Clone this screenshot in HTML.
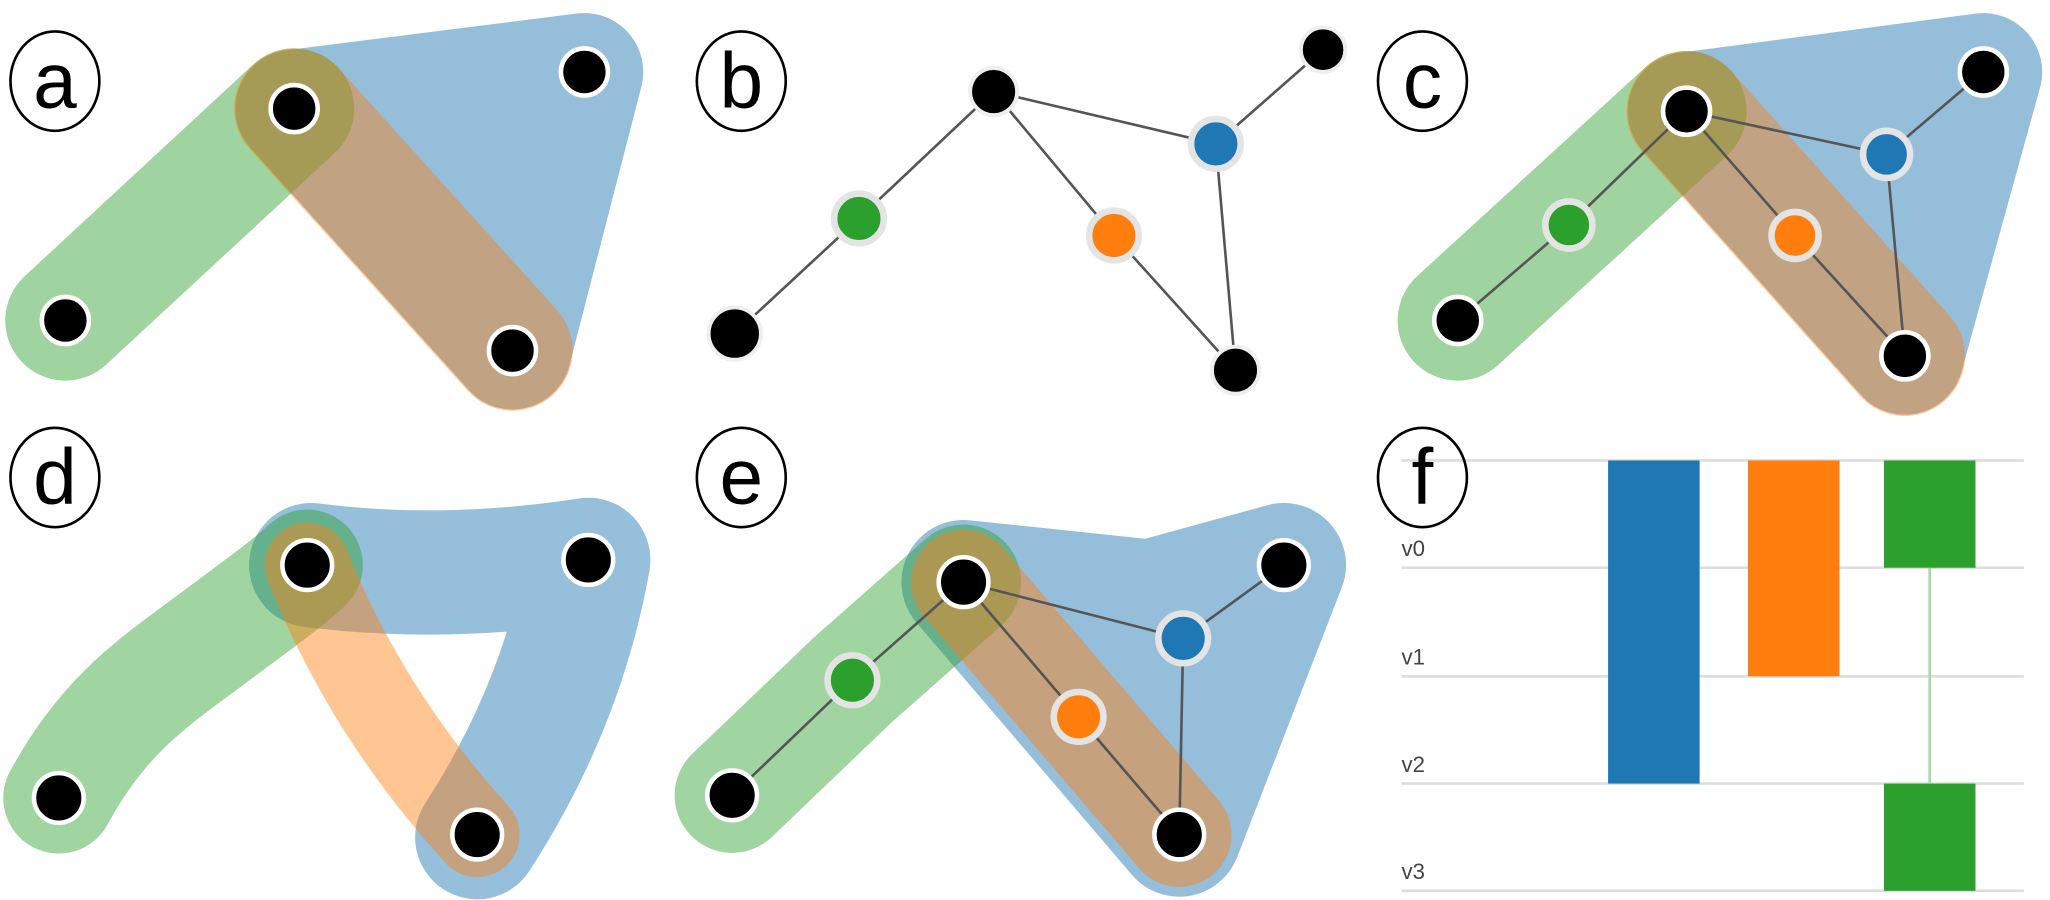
<!DOCTYPE html>
<html><head><meta charset="utf-8"><style>
html,body{margin:0;padding:0;background:#fff;}
svg{display:block;}
text{font-family:"Liberation Sans",sans-serif;}
</style></head><body>
<svg width="2050" height="900" viewBox="0 0 1568 688" preserveAspectRatio="none" xmlns="http://www.w3.org/2000/svg">
<g stroke-linejoin="round" stroke-linecap="round">
<!-- panel a -->
<g opacity="0.47"><polygon points="225,83 447,55 392,268" fill="#1f77b4" stroke="#1f77b4" stroke-width="90"/></g>
<g opacity="0.45"><line x1="50" y1="245" x2="225" y2="83" stroke="#2ca02c" stroke-width="92"/></g>
<g opacity="0.42"><line x1="225" y1="83" x2="392" y2="268" stroke="#ff7f0e" stroke-width="92"/></g>
<!-- panel c -->
<g opacity="0.47"><polygon points="1290,85 1517,55 1457,272" fill="#1f77b4" stroke="#1f77b4" stroke-width="90"/></g>
<g opacity="0.45"><line x1="1115" y1="245" x2="1290" y2="85" stroke="#2ca02c" stroke-width="92"/></g>
<g opacity="0.42"><line x1="1290" y1="85" x2="1457" y2="272" stroke="#ff7f0e" stroke-width="92"/></g>
<!-- panel d -->
<g opacity="0.47"><path d="M238,432 Q340,445 450,428 Q430,540 365,640" fill="none" stroke="#1f77b4" stroke-width="95"/></g>
<g opacity="0.45"><path d="M45,610 C80,545 120,520 160,490 S215,450 235,432" fill="none" stroke="#2ca02c" stroke-width="85"/></g>
<g opacity="0.45"><path d="M235,432 Q280,545 365,638" fill="none" stroke="#ff7f0e" stroke-width="65"/></g>
<!-- panel e -->
<g opacity="0.47"><polygon points="737,445 880,460 982,432 902,638" fill="#1f77b4" stroke="#1f77b4" stroke-width="95"/></g>
<g opacity="0.45"><polyline points="560,608 652,520 737,445" fill="none" stroke="#2ca02c" stroke-width="88"/></g>
<g opacity="0.45"><polyline points="737,445 825,548 902,638" fill="none" stroke="#ff7f0e" stroke-width="80"/></g>
</g>
<!-- edges -->
<g stroke="#555" stroke-width="2">
<line x1="760" y1="70" x2="930" y2="110"/><line x1="760" y1="70" x2="657" y2="167"/><line x1="657" y1="167" x2="562" y2="255"/>
<line x1="760" y1="70" x2="852" y2="180"/><line x1="852" y1="180" x2="945" y2="283"/><line x1="930" y1="110" x2="945" y2="283"/><line x1="930" y1="110" x2="1012" y2="38"/>
<line x1="1290" y1="85" x2="1443" y2="118"/><line x1="1290" y1="85" x2="1200" y2="172"/><line x1="1200" y1="172" x2="1115" y2="245"/>
<line x1="1290" y1="85" x2="1373" y2="180"/><line x1="1373" y1="180" x2="1457" y2="272"/><line x1="1443" y1="118" x2="1457" y2="272"/><line x1="1443" y1="118" x2="1517" y2="55"/>
<line x1="737" y1="445" x2="905" y2="488"/><line x1="737" y1="445" x2="652" y2="520"/><line x1="652" y1="520" x2="560" y2="608"/>
<line x1="737" y1="445" x2="825" y2="548"/><line x1="825" y1="548" x2="902" y2="638"/><line x1="905" y1="488" x2="902" y2="638"/><line x1="905" y1="488" x2="982" y2="432"/>
</g>
<!-- black nodes -->
<g fill="#000" stroke="#fff" stroke-width="3.5">
<circle cx="225" cy="83" r="18"/><circle cx="447" cy="55" r="18"/><circle cx="50" cy="245" r="18"/><circle cx="392" cy="268" r="18"/>
<circle cx="1290" cy="85" r="18"/><circle cx="1517" cy="55" r="18"/><circle cx="1115" cy="245" r="18"/><circle cx="1457" cy="272" r="18"/>
<circle cx="235" cy="432" r="19"/><circle cx="450" cy="428" r="19"/><circle cx="45" cy="610" r="19"/><circle cx="365" cy="638" r="19"/>
<circle cx="737" cy="445" r="19"/><circle cx="982" cy="432" r="19"/><circle cx="560" cy="608" r="19"/><circle cx="902" cy="638" r="19"/>
</g>
<g fill="#000" stroke="#eee" stroke-width="3">
<circle cx="760" cy="70" r="18"/><circle cx="1012" cy="38" r="17"/><circle cx="562" cy="255" r="20"/><circle cx="945" cy="283" r="18"/>
</g>
<!-- colored nodes -->
<g stroke="#e4e4e4" stroke-width="5">
<circle cx="657" cy="167" r="19" fill="#2ca02c"/><circle cx="852" cy="180" r="19" fill="#ff7f0e"/><circle cx="930" cy="110" r="19" fill="#1f77b4"/>
<circle cx="1200" cy="172" r="18" fill="#2ca02c"/><circle cx="1373" cy="180" r="18" fill="#ff7f0e"/><circle cx="1443" cy="118" r="18" fill="#1f77b4"/>
<circle cx="652" cy="520" r="19" fill="#2ca02c"/><circle cx="825" cy="548" r="19" fill="#ff7f0e"/><circle cx="905" cy="488" r="19" fill="#1f77b4"/>
</g>
<!-- panel f -->
<g stroke="#ddd" stroke-width="2">
<line x1="1072" y1="352" x2="1548" y2="352"/><line x1="1072" y1="434" x2="1548" y2="434"/><line x1="1072" y1="517" x2="1548" y2="517"/><line x1="1072" y1="599" x2="1548" y2="599"/><line x1="1072" y1="681" x2="1548" y2="681"/>
</g>
<rect x="1230" y="352" width="70" height="247" fill="#1f77b4"/>
<rect x="1337" y="352" width="70" height="165" fill="#ff7f0e"/>
<rect x="1441" y="352" width="70" height="82" fill="#2ca02c"/>
<rect x="1441" y="599" width="70" height="82" fill="#2ca02c"/>
<line x1="1476" y1="434" x2="1476" y2="599" stroke="#a8d8a8" stroke-width="2"/>
<g font-size="17" fill="#444">
<text x="1072" y="425">v0</text><text x="1072" y="508">v1</text><text x="1072" y="590">v2</text><text x="1072" y="672">v3</text>
</g>
<!-- labels -->
<g font-size="60" text-anchor="middle" fill="#000">
<ellipse cx="42" cy="62" rx="34" ry="38" fill="#fff" stroke="#000" stroke-width="2"/><text x="42" y="82">a</text>
<ellipse cx="567" cy="62" rx="34" ry="38" fill="#fff" stroke="#000" stroke-width="2"/><text x="567" y="82">b</text>
<ellipse cx="1088" cy="62" rx="34" ry="38" fill="#fff" stroke="#000" stroke-width="2"/><text x="1088" y="82">c</text>
<ellipse cx="42" cy="365" rx="34" ry="38" fill="#fff" stroke="#000" stroke-width="2"/><text x="42" y="385">d</text>
<ellipse cx="567" cy="365" rx="34" ry="38" fill="#fff" stroke="#000" stroke-width="2"/><text x="567" y="385">e</text>
<ellipse cx="1088" cy="365" rx="34" ry="38" fill="none" stroke="#000" stroke-width="2"/><text x="1088" y="385">f</text>
</g>
</svg>
</body></html>
